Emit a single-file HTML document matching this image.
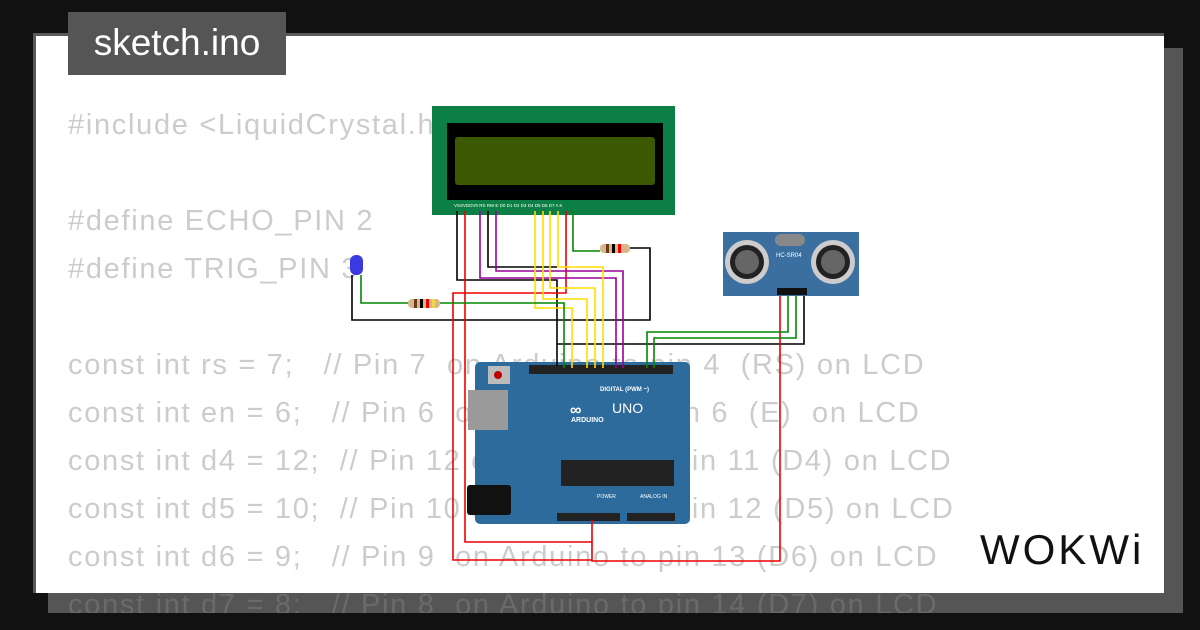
<!DOCTYPE html>
<html><head><meta charset="utf-8"><style>
html,body{margin:0;padding:0;background:#111;width:1200px;height:630px;overflow:hidden;font-family:"Liberation Sans",sans-serif}
.shadow{position:absolute;left:48px;top:48px;width:1135px;height:565px;background:#555;overflow:hidden}
.panel{position:absolute;left:33px;top:33px;width:1128px;height:557px;background:#fff;border:3px solid #5a5a5a;border-right:none;border-bottom:none;overflow:hidden}
.code{position:absolute;left:32px;top:65px;font-size:29px;line-height:48px;color:#ccc;white-space:pre;letter-spacing:1.7px}
.shadow .code{left:20px;top:533px;color:#6a6a6a}
.title{position:absolute;left:68px;top:12px;width:218px;height:63px;background:#555;color:#fff;font-size:37px;line-height:62px;text-align:center}
.logo{position:absolute;left:980px;top:526px;font-size:42px;letter-spacing:3px;color:#111}
svg{position:absolute;left:0;top:0}
</style></head><body>
<div class="shadow"><div class="code">const int d7 = 8;   // Pin 8  on Arduino to pin 14 (D7) on LCD</div></div>
<div class="panel"><div class="code">#include &lt;LiquidCrystal.h&gt;

#define ECHO_PIN 2
#define TRIG_PIN 3

const int rs = 7;   // Pin 7  on Arduino to pin 4  (RS) on LCD
const int en = 6;   // Pin 6  on Arduino to pin 6  (E)  on LCD
const int d4 = 12;  // Pin 12 on Arduino to pin 11 (D4) on LCD
const int d5 = 10;  // Pin 10 on Arduino to pin 12 (D5) on LCD
const int d6 = 9;   // Pin 9  on Arduino to pin 13 (D6) on LCD
const int d7 = 8;   // Pin 8  on Arduino to pin 14 (D7) on LCD</div></div>
<div class="title">sketch.ino</div>
<div class="logo">WOKWi</div>
<svg width="1200" height="630" viewBox="0 0 1200 630">
<!-- Arduino -->
<rect x="475" y="362" width="215" height="162" rx="5" fill="#2c6b9b"/>
<rect x="468" y="390" width="40" height="40" fill="#9a9a9a"/>
<rect x="467" y="485" width="44" height="30" rx="3" fill="#111"/>
<rect x="488" y="366" width="22" height="18" fill="#bbb"/><circle cx="498" cy="375" r="4" fill="#b00"/>
<rect x="529" y="365" width="144" height="9" fill="#222"/>
<rect x="557" y="513" width="63" height="8" fill="#222"/><rect x="627" y="513" width="48" height="8" fill="#222"/>
<rect x="561" y="460" width="113" height="26" fill="#222"/>
<text x="600" y="391" font-size="6" fill="#fff" font-weight="bold">DIGITAL (PWM ~)</text>
<text x="570" y="415" font-size="16" fill="#fff" font-weight="bold">∞</text>
<text x="612" y="413" font-size="14" fill="#fff">UNO</text>
<text x="571" y="422" font-size="7" fill="#fff" font-weight="bold">ARDUINO</text>
<text x="597" y="498" font-size="5" fill="#fff">POWER</text><text x="640" y="498" font-size="5" fill="#fff">ANALOG IN</text>
<!-- LCD -->
<rect x="432" y="106" width="243" height="109" fill="#0b7f45"/>
<rect x="447" y="123" width="216" height="77" fill="#000"/>
<rect x="455" y="137" width="200" height="48" rx="3" fill="#3c5800"/>
<text x="454" y="207" font-size="4.5" fill="#fff">VSSVDDV0 RS RW E  D0 D1 D2 D3 D4 D5 D6 D7  A   K</text>
<!-- HC-SR04 -->
<rect x="723" y="232" width="136" height="64" fill="#3b6fa0"/>
<circle cx="747" cy="262" r="22" fill="#ccc"/><circle cx="747" cy="262" r="17" fill="#222"/><circle cx="747" cy="262" r="12" fill="#666"/>
<circle cx="833" cy="262" r="22" fill="#ccc"/><circle cx="833" cy="262" r="17" fill="#222"/><circle cx="833" cy="262" r="12" fill="#666"/>
<rect x="775" y="234" width="30" height="12" rx="6" fill="#888"/>
<text x="776" y="257" font-size="6" fill="#fff">HC-SR04</text>
<rect x="777" y="288" width="30" height="7" fill="#111"/>
<!-- LED -->
<rect x="350" y="255" width="13" height="20" rx="6" fill="#3a3ae0"/>
<!-- resistors -->
<rect x="600" y="244" width="30" height="9" rx="4" fill="#d9b68a"/><rect x="606" y="244" width="3" height="9" fill="#6b3b1a"/><rect x="612" y="244" width="3" height="9" fill="#000"/><rect x="618" y="244" width="3" height="9" fill="#e00"/>
<rect x="408" y="299" width="32" height="9" rx="4" fill="#d9b68a"/><rect x="414" y="299" width="3" height="9" fill="#6b3b1a"/><rect x="420" y="299" width="3" height="9" fill="#000"/><rect x="426" y="299" width="3" height="9" fill="#e00"/><rect x="432" y="299" width="3" height="9" fill="#ecd64a"/>
<g fill="none" stroke-width="1.6">
<polyline stroke="#000" points="457,211 457,280 557,280 557,366"/>
<polyline stroke="#000" points="488,211 488,267 557,267"/>
<polyline stroke="#000" points="352,275 352,320 650,320 650,248 630,248"/>
<polyline stroke="#000" points="804,296 804,344 557,344"/>
<polyline stroke="#e00" points="465,211 465,542 592,542 592,520"/>
<polyline stroke="#e00" points="566,211 566,293 453,293 453,560 592,560"/>
<polyline stroke="#e00" points="592,542 592,561 780,561 780,296"/>
<polyline stroke="#909" points="480,211 480,278 616,278 616,368"/>
<polyline stroke="#909" points="496,211 496,271 623,271 623,368"/>
<polyline stroke="#fd0" points="535,211 535,308 572,308 572,368"/>
<polyline stroke="#fd0" points="543,211 543,299 587,299 587,368"/>
<polyline stroke="#fd0" points="550,211 550,288 595,288 595,368"/>
<polyline stroke="#fd0" points="558,211 558,267 603,267 603,368"/>
<polyline stroke="#080" points="573,211 573,251 600,251"/>
<polyline stroke="#080" points="361,275 361,303 408,303"/>
<polyline stroke="#080" points="440,303 564,303 564,368"/>
<polyline stroke="#080" points="788,296 788,332 647,332 647,368"/>
<polyline stroke="#080" points="796,296 796,338 654,338 654,368"/>
</g>
</svg>
</body></html>
